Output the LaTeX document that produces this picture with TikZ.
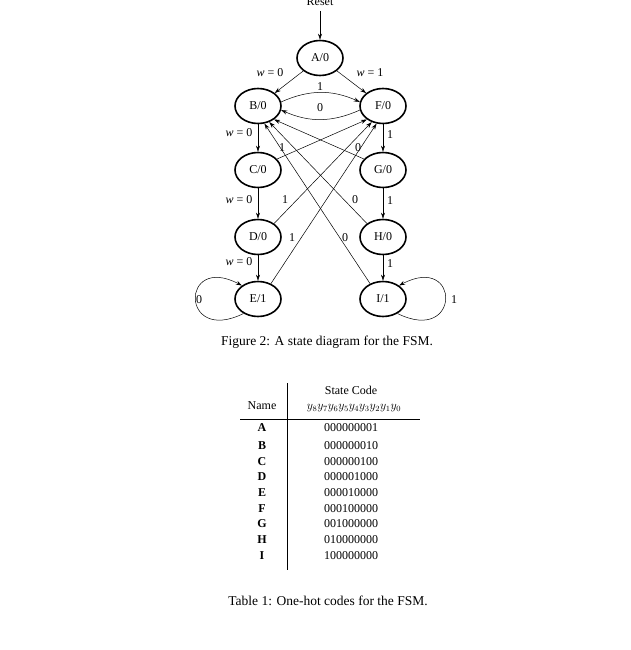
\documentclass[tikz,border=0pt]{standalone}
\usepackage{fontspec}
\setmainfont{Liberation Serif}
\usetikzlibrary{arrows.meta,shapes.geometric}
\newcommand{\fs}{\fontsize{12}{14}\selectfont}
\newcommand{\fc}{\fontsize{13.5}{16}\selectfont}
\begin{document}
\begin{tikzpicture}[x=1pt,y=-1pt,
  st/.style={ellipse,draw,line width=1.6pt,minimum width=46pt,minimum height=35pt,inner sep=0pt,font=\fs},
  tr/.style={-{Stealth[length=6pt,width=4pt]},line width=0.5pt},
  lb/.style={font=\fs,inner sep=1pt},
  cell/.style={font=\fs,inner sep=0pt}]
\useasboundingbox (0,0) rectangle (631,650);
\node[lb] (reset) at (320,2) {Reset};
\node[st] (A) at (320,58) {A/0};
\node[st] (B) at (258,106) {B/0};
\node[st] (F) at (383,106) {F/0};
\node[st] (C) at (258,170) {C/0};
\node[st] (G) at (383,170) {G/0};
\node[st] (D) at (258,237) {D/0};
\node[st] (H) at (383,237) {H/0};
\node[st] (E) at (258,299) {E/1};
\node[st] (I) at (383,299) {I/1};
\coordinate (rtop) at (320,11);
\draw[tr] (rtop) -- (A);
\draw[tr] (A) -- (B);
\draw[tr] (A) -- (F);
\draw[tr] (B.10) to[bend left=24] (F.170);
\draw[tr] (F.190) to[bend left=24] (B.350);
\draw[tr] (B) -- (C);
\draw[tr] (C) -- (D);
\draw[tr] (D) -- (E);
\draw[tr] (F) -- (G);
\draw[tr] (G) -- (H);
\draw[tr] (H) -- (I);
\draw[tr] (C.30) -- (F.220);
\draw[tr] (D.40) -- (F.235);
\draw[tr] (E.50) -- (F.250);
\draw[tr] (G.150) -- (B.320);
\draw[tr] (H.140) -- (B.305);
\draw[tr] (I.130) -- (B.290);
\draw[tr] (E.225) .. controls (180,345) and (180,253) .. (E.140);
\draw[tr] (I.315) .. controls (461,345) and (461,253) .. (I.40);
\node[lb] (l1) at (270,73) {\textit{w} = 0};
\node[lb] (l2) at (370,73) {\textit{w} = 1};
\node[lb] (l3) at (320,87) {1};
\node[lb] (l4) at (320,108) {0};
\node[lb] (l5) at (239,133) {\textit{w} = 0};
\node[lb] (l6) at (239,200) {\textit{w} = 0};
\node[lb] (l7) at (239,262) {\textit{w} = 0};
\node[lb] (l8) at (390,135) {1};
\node[lb] (l9) at (390,201) {1};
\node[lb] (l10) at (390,264) {1};
\node[lb] (l11) at (282,148) {1};
\node[lb] (l12) at (285,200) {1};
\node[lb] (l13) at (292,238) {1};
\node[lb] (l14) at (358,148) {0};
\node[lb] (l15) at (355,200) {0};
\node[lb] (l16) at (345,238) {0};
\node[lb] (l17) at (199,300) {0};
\node[lb] (l18) at (454,300) {1};
\node[font=\fc] (cap1) at (327,342) {Figure 2: A state diagram for the FSM.};
% table
\coordinate (v1) at (287,383);
\coordinate (v2) at (287,570);
\coordinate (h1) at (240,419);
\coordinate (h2) at (420,419);
\draw[line width=0.5pt] (v1) -- (v2);
\draw[line width=0.5pt] (h1) -- (h2);
\node[cell] (sc) at (351,390) {State Code};
\node[cell] (nm) at (262,406) {Name};
\node[cell] (yy) at (354,408) {$y_8y_7y_6y_5y_4y_3y_2y_1y_0$};
\foreach \n/\c/\y in {A/000000001/428,B/000000010/446,C/000000100/462,D/000001000/477,E/000010000/493,F/000100000/509,G/001000000/524,H/010000000/540,I/100000000/556}{
  \node[cell,font=\fs\bfseries] (n\n) at (262,\y) {\n};
  \node[cell] (c\n) at (351,\y) {\c};
}
\node[font=\fc] (cap2) at (328,601) {Table 1: One-hot codes for the FSM.};
\end{tikzpicture}
\end{document}
